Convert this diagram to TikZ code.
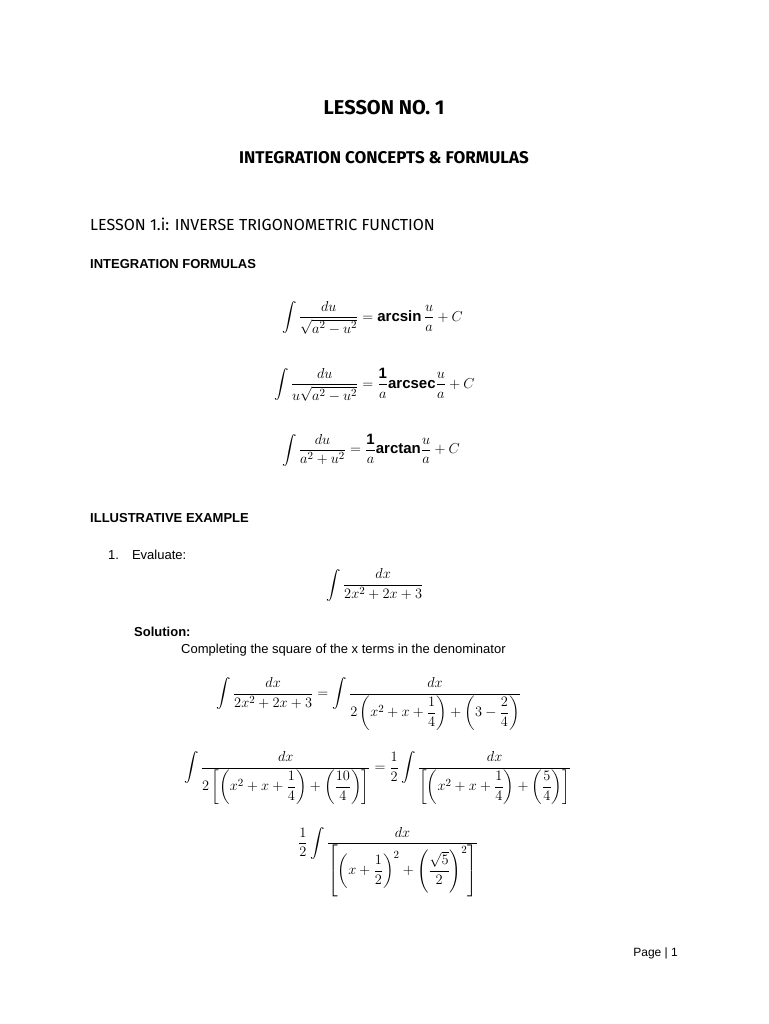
\documentclass[tikz,border=0pt]{standalone}
\usepackage{amsmath}
\usepackage{fontspec}
\setmainfont{Liberation Sans}
\newfontfamily\headf{Fira Sans}
\tikzset{txt/.style={anchor=west,inner sep=0pt,font=\fontsize{13}{15}\selectfont},
eq/.style={inner sep=0pt,font=\fontsize{15}{18}\selectfont}}
\begin{document}
\begin{tikzpicture}[x=1pt,y=-1pt]
\useasboundingbox (0,0) rectangle (768,1024);
\node[inner sep=0pt,font=\headf\bfseries\fontsize{20}{24}\selectfont] (t1) at (384,108) {LESSON NO. 1};
\node[inner sep=0pt,font=\headf\bfseries\fontsize{17}{20}\selectfont] (t2) at (384,158) {INTEGRATION CONCEPTS \& FORMULAS};
\node[txt,font=\headf\fontsize{16}{19}\selectfont] (t3) at (90,224) {LESSON 1.i: INVERSE TRIGONOMETRIC FUNCTION};
\node[txt,font=\bfseries\fontsize{13}{15}\selectfont] (h1) at (90,264) {INTEGRATION FORMULAS};
\node[eq,anchor=west] (f1) at (282,318) {$\displaystyle\int\frac{du}{\sqrt{a^2-u^2}}=\mathbf{arcsin}\,\frac{u}{a}+C$};
\node[eq,anchor=west] (f2) at (274,385) {$\displaystyle\int\frac{du}{u\sqrt{a^2-u^2}}=\frac{\mathbf 1}{a}\mathbf{arcsec}\frac{u}{a}+C$};
\node[eq,anchor=west] (f3) at (282,450) {$\displaystyle\int\frac{du}{a^2+u^2}=\frac{\mathbf 1}{a}\mathbf{arctan}\frac{u}{a}+C$};
\node[txt,font=\bfseries\fontsize{13}{15}\selectfont] (h2) at (90,518) {ILLUSTRATIVE EXAMPLE};
\node[txt] (e1) at (108,555) {1.\quad Evaluate:};
\node[eq,anchor=west] (f4) at (326,585) {$\displaystyle\int\frac{dx}{2x^2+2x+3}$};
\node[txt,font=\bfseries\fontsize{13}{15}\selectfont] (s) at (134,632) {Solution:};
\node[txt] (s2) at (181,650) {Completing the square of the x terms in the denominator};
\node[eq,anchor=west] (f5) at (216,704) {$\displaystyle\int\frac{dx}{2x^2+2x+3}=\int\frac{dx}{2\left(x^2+x+\dfrac14\right)+\left(3-\dfrac24\right)}$};
\node[eq,anchor=west] (f6) at (184,778) {$\displaystyle\int\frac{dx}{2\left[\left(x^2+x+\dfrac14\right)+\left(\dfrac{10}{4}\right)\right]}=\frac{1}{2}\int\frac{dx}{\left[\left(x^2+x+\dfrac14\right)+\left(\dfrac54\right)\right]}$};
\node[eq,anchor=west] (f7) at (298,862) {$\displaystyle\frac12\int\frac{dx}{\left[\left(x+\dfrac12\right)^2+\left(\dfrac{\sqrt5}{2}\right)^2\right]}$};
\node[anchor=east,inner sep=0pt,font=\fontsize{12}{14}\selectfont] (p) at (678,953) {Page | 1};
\end{tikzpicture}
\end{document}
